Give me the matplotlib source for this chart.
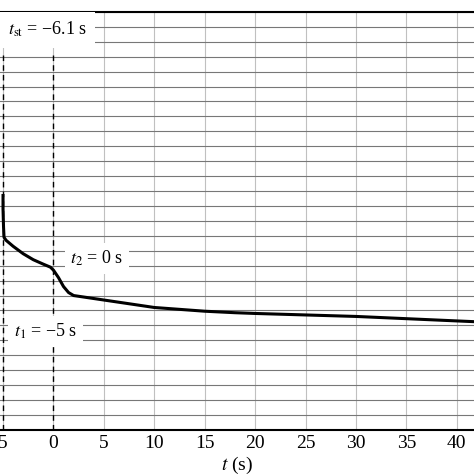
import matplotlib
matplotlib.use("Agg")
import matplotlib.pyplot as plt
import numpy as np

t = [-5.0, -5.0, -4.95, -4.9, -4.7, -4.0, -3.0, -2.0, -1.0, -0.3, 0.0, 0.5, 1.0, 1.5, 2.0, 3.0, 5.0, 7.0, 10.0, 12.0, 15.0, 18.0, 20.0, 25.0, 30.0, 35.0, 40.0, 41.7]
y = [15.7, 14.8, 13.6, 12.9, 12.7, 12.3, 11.8, 11.4, 11.1, 10.9, 10.7, 10.2, 9.6, 9.2, 9.0, 8.9, 8.7, 8.5, 8.2, 8.1, 7.95, 7.85, 7.8, 7.7, 7.6, 7.45, 7.3, 7.25]
xticks = [-5, 0, 5, 10, 15, 20, 25, 30, 35, 40]
xticklabels = ["5", "0", "5", "10", "15", "20", "25", "30", "35", "40"]

plt.rcParams['font.family'] = ['Liberation Serif', 'DejaVu Serif']
plt.rcParams['mathtext.fontset'] = 'stix'
fig = plt.figure(figsize=(4.74, 4.74), dpi=100)
ax = fig.add_axes([0.0, 0.093, 1.0, 0.882])
ax.set_xlim(-5.3, 41.7)
ax.set_ylim(0, 28)
ax.set_xticks(xticks)
ax.set_xticklabels(xticklabels, fontsize=14)
ax.set_yticks(np.arange(0, 29, 1))
ax.set_yticklabels([])
ax.tick_params(axis='y', length=0)
ax.tick_params(axis='x', length=0, pad=4)
ax.grid(axis='y', color='#777777', lw=0.8)
ax.grid(axis='x', color='#c0c0c0', lw=0.8)
ax.set_axisbelow(True)
for s in ['left', 'right']:
    ax.spines[s].set_visible(False)
ax.spines['top'].set_linewidth(1.5)
ax.spines['bottom'].set_linewidth(1.5)

ax.plot(t, y, color='black', lw=2.2, zorder=3)
for xv in [-5, 0]:
    ax.plot([xv, xv], [0, 25.4], color='black', lw=1, ls=(0, (4, 3)), zorder=3)

box = dict(facecolor='white', edgecolor='none', pad=4)
ax.text(-0.6, 26.8, r"$t_{\rm st}$ = −6.1 s", fontsize=13, ha='center', va='center', bbox=dict(facecolor='white', edgecolor='none', pad=6), zorder=4)
ax.text(4.3, 11.5, r"$t_2$ = 0 s", fontsize=13, ha='center', va='center', bbox=box, zorder=4)
ax.text(-0.8, 6.6, r"$t_1$ = −5 s", fontsize=13, ha='center', va='center', bbox=box, zorder=4)
ax.set_xlabel(r"$t$ (s)", fontsize=14, labelpad=2)
fig.savefig("out.png", dpi=100)
